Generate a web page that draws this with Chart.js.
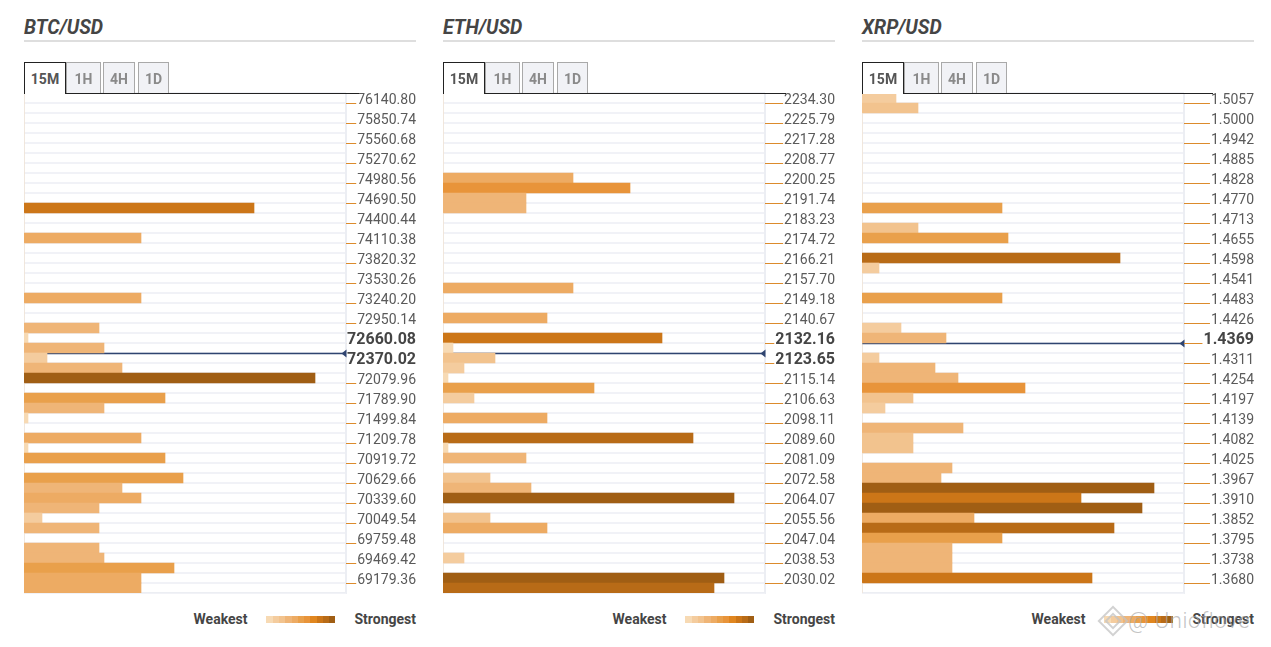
<!DOCTYPE html>
<html>
<head>
<meta charset="utf-8">
<title>Technical confluences - BTC, ETH, XRP</title>
<script src="https://cdn.jsdelivr.net/npm/chart.js@4.4.1/dist/chart.umd.min.js"></script>
<style>
  body { margin: 0; background: #fff; font-family: Roboto, "Noto Sans", sans-serif; }
  #page { position: relative; width: 1271px; height: 647px; overflow: hidden; }
  .panel { position: absolute; top: 0; width: 392px; height: 647px; }
  .title { position: absolute; left: 0; top: 15px; line-height: 26px; font-size: 19.5px; font-weight: 700; font-style: italic; color: #454545; }
  .rule { position: absolute; left: 0; top: 40px; width: 392px; height: 2px; background: #dedede; }
  .tab { position: absolute; top: 62px; height: 31px; box-sizing: border-box; border: 1px solid #a9a9a9; border-bottom: none;
         background: #f1f2f6; color: #8a8a8a; font-size: 14px; font-weight: 700; text-align: center; line-height: 32px; z-index: 3; }
  .tab.on { background: #fff; border-color: #222; color: #555; height: 32px; }
  .tabline { position: absolute; top: 93px; left: 41px; height: 1px; background: #222; z-index: 2; }
  .box { position: absolute; left: 0; top: 85px; width: 392px; height: 510px; z-index: 1; }
  .legend { position: absolute; right: 0; top: 610px; height: 18px; display: flex; align-items: center;
            font-size: 14px; font-weight: 700; color: #454545; }
  .ramp { display: flex; width: 69px; height: 7px; margin: 0 19px 0 19px; }
  .ramp span { flex: 1; }
  .mark { position: absolute; left: 1097px; top: 604px; width: 170px; height: 40px; color: rgba(170,170,170,0.7); z-index: 5; }
  .mark i { position: absolute; border: 2px solid rgba(195,195,195,0.75); transform: rotate(45deg); }
  .mark b { position: absolute; left: 31px; top: 4px; font-size: 22px; font-weight: 300; letter-spacing: 0.6px; }
</style>
</head>
<body>
<div id="page"></div>

<script>
// price levels printed on the right, one per two rows
const btcLevels = ['76140.80', '75850.74', '75560.68', '75270.62', '74980.56', '74690.50', '74400.44', '74110.38', '73820.32',
  '73530.26', '73240.20', '72950.14', '72660.08', '72370.02', '72079.96', '71789.90', '71499.84', '71209.78', '70919.72',
  '70629.66', '70339.60', '70049.54', '69759.48', '69469.42', '69179.36'];
const ethLevels = ['2234.30', '2225.79', '2217.28', '2208.77', '2200.25', '2191.74', '2183.23', '2174.72', '2166.21',
  '2157.70', '2149.18', '2140.67', '2132.16', '2123.65', '2115.14', '2106.63', '2098.11', '2089.60', '2081.09',
  '2072.58', '2064.07', '2055.56', '2047.04', '2038.53', '2030.02'];
const xrpLevels = ['1.5057', '1.5000', '1.4942', '1.4885', '1.4828', '1.4770', '1.4713', '1.4655', '1.4598',
  '1.4541', '1.4483', '1.4426', '1.4369', '1.4311', '1.4254', '1.4197', '1.4139', '1.4082', '1.4025',
  '1.3967', '1.3910', '1.3852', '1.3795', '1.3738', '1.3680'];

// confluence strength per row, top to bottom (50 rows)
const btcStrength = [0, 0, 0, 0, 0, 0, 0, 0, 0, 0, 0, 230, 0, 0, 117, 0, 0, 0, 0, 0,
  117, 0, 0, 75, 4, 80, 23, 98, 291, 0, 141, 80, 4, 0, 117, 4, 141, 0, 159, 98,
  117, 75, 18, 75, 0, 75, 80, 150, 117, 117];
const ethStrength = [0, 0, 0, 0, 0, 0, 0, 0, 130, 187, 83, 83, 0, 0, 0, 0, 0, 0, 0, 130,
  0, 0, 104, 0, 219, 10, 52, 21, 5, 151, 31, 0, 104, 0, 250, 5, 83, 0, 47, 88,
  291, 0, 47, 104, 0, 0, 21, 0, 281, 271];
const xrpStrength = [34, 56, 0, 0, 0, 0, 0, 0, 0, 0, 0, 140, 0, 56, 146, 0, 258, 17, 0, 0,
  140, 0, 0, 39, 84, 0, 17, 73, 96, 163, 51, 23, 0, 101, 51, 51, 0, 90, 79, 292,
  219, 280, 112, 252, 140, 90, 90, 90, 230, 0];

// current price and the levels shown in bold around it
const btcPrice = 72435;
const ethPrice = 2125.56;
const xrpPrice = 1.4353;
const btcBold = ['72660.08', '72370.02'];
const ethBold = ['2132.16', '2123.65'];
const xrpBold = ['1.4369'];

const tabs = ['15M', '1H', '4H', '1D'];

// weakest -> strongest
const palette = ['#f7dab4', '#f4cc9e', '#f2c38e', '#efb577', '#edab63', '#e9a04b', '#e8943a', '#e0861f', '#cc7618', '#b86b17', '#a05e14'];
const limits = [14, 42, 70, 103, 136, 161, 200, 215, 245, 276];

function shade(v) {
  let i = 0;
  while (i < limits.length && v >= limits[i]) i++;
  return palette[i];
}

const tickFont = { family: 'Roboto', size: 14 };
const boldFont = { family: 'Roboto', size: 16, weight: 'bold' };
const measureCtx = document.createElement('canvas').getContext('2d');
function textWidth(s, f) {
  measureCtx.font = (f.weight ? f.weight + ' ' : '') + f.size + 'px ' + f.family;
  return measureCtx.measureText(s).width;
}

// fractional row index of a price, between the printed levels
function priceRow(levels, price) {
  const v = levels.map(Number);
  for (let k = 0; k < v.length - 1; k++) {
    if (price <= v[k] && price >= v[k + 1]) {
      return 2 * k + 2 * (v[k] - price) / (v[k] - v[k + 1]);
    }
  }
  return 0;
}

const levelMarks = {
  id: 'levelMarks',
  beforeDatasetsDraw(chart, args, o) {
    const { ctx, chartArea: a } = chart;
    const y = chart.scales.y;
    ctx.save();
    ctx.strokeStyle = '#eceef3';
    ctx.lineWidth = 1;
    ctx.strokeRect(a.left + 0.5, a.top + 0.5, a.width - 1, a.height - 1);
    const py = y.getPixelForValue(priceRow(o.levels, o.price));
    ctx.strokeStyle = '#2f4470';
    ctx.lineWidth = 1.5;
    ctx.beginPath();
    ctx.moveTo(a.left, py);
    ctx.lineTo(a.right, py);
    ctx.stroke();
    ctx.restore();
  },
  afterDatasetsDraw(chart, args, o) {
    const { ctx, chartArea: a } = chart;
    const py = chart.scales.y.getPixelForValue(priceRow(o.levels, o.price));
    ctx.save();
    ctx.fillStyle = '#2f4470';
    ctx.beginPath();
    ctx.moveTo(a.right - 4.5, py);
    ctx.lineTo(a.right + 0.5, py - 4);
    ctx.lineTo(a.right + 0.5, py + 4);
    ctx.closePath();
    ctx.fill();
    ctx.restore();
  },
  afterDraw(chart, args, o) {
    // orange underline from the plot edge to each printed level
    const { ctx, chartArea: a } = chart;
    const y = chart.scales.y;
    const half = (y.getPixelForTick(1) - y.getPixelForTick(0)) / 2;
    ctx.save();
    ctx.strokeStyle = '#dc8b2c';
    ctx.lineWidth = 1;
    y.ticks.forEach((t, i) => {
      if (!t.label) return;
      const w = textWidth(t.label, o.bold.includes(t.label) ? boldFont : tickFont);
      const ly = Math.round(y.getPixelForTick(i) + half) + 0.5;
      ctx.beginPath();
      ctx.moveTo(a.right, ly);
      ctx.lineTo(y.right - w - 1, ly);
      ctx.stroke();
    });
    ctx.restore();
  }
};

function makePanel(left, title, levels, strength, price, bold, lineWidth) {
  const page = document.getElementById('page');
  const panel = document.createElement('div');
  panel.className = 'panel';
  panel.style.left = left + 'px';
  panel.innerHTML =
    '<div class="title">' + title + '</div><div class="rule"></div>' +
    '<div class="tab on" style="left:0;width:42px">' + tabs[0] + '</div>' +
    '<div class="tab" style="left:42px;width:35px">' + tabs[1] + '</div>' +
    '<div class="tab" style="left:79px;width:32px">' + tabs[2] + '</div>' +
    '<div class="tab" style="left:114px;width:31px">' + tabs[3] + '</div>' +
    '<div class="tabline" style="width:' + lineWidth + 'px"></div>' +
    '<div class="box"><canvas></canvas></div>' +
    '<div class="legend"><span>Weakest</span><div class="ramp">' +
    palette.map(c => '<span style="background:' + c + '"></span>').join('') +
    '</div><span>Strongest</span></div>';
  page.appendChild(panel);

  const rows = levels.flatMap(l => [l, '']);
  const isBold = c => c.tick && bold.includes(c.tick.label);

  new Chart(panel.querySelector('canvas'), {
    type: 'bar',
    data: {
      labels: rows,
      datasets: [{
        data: strength,
        backgroundColor: strength.map(shade),
        borderWidth: 0,
        barPercentage: 1,
        categoryPercentage: 1
      }]
    },
    options: {
      indexAxis: 'y',
      responsive: true,
      maintainAspectRatio: false,
      animation: false,
      layout: { padding: { top: 8, bottom: 2, left: 0, right: 0 } },
      plugins: {
        legend: { display: false },
        tooltip: { enabled: false },
        levelMarks: { levels: levels, price: price, bold: bold }
      },
      scales: {
        x: { display: false, min: 0, max: 322 },
        y: {
          position: 'right',
          offset: true,
          grid: { offset: true, color: '#f1f2f7', lineWidth: 2, drawTicks: false },
          border: { display: true, color: '#eceef3' },
          ticks: {
            autoSkip: false,
            crossAlign: 'far',
            padding: 0,
            labelOffset: 2,
            font: c => isBold(c) ? boldFont : tickFont,
            color: c => isBold(c) ? '#454545' : '#5a5a5a'
          },
          afterFit: s => { s.width = 70; s.paddingTop = 0; s.paddingBottom = 0; }
        }
      }
    },
    plugins: [levelMarks]
  });
}

makePanel(24, 'BTC/USD', btcLevels, btcStrength, btcPrice, btcBold, 294);
makePanel(443, 'ETH/USD', ethLevels, ethStrength, ethPrice, ethBold, 302);
makePanel(862, 'XRP/USD', xrpLevels, xrpStrength, xrpPrice, xrpBold, 310);

const mark = document.createElement('div');
mark.className = 'mark';
mark.innerHTML = '<i style="left:5px;top:6px;width:18px;height:18px"></i><i style="left:10px;top:11px;width:8px;height:8px"></i><b>@ Unioflove</b>';
document.getElementById('page').appendChild(mark);
</script>
</body>
</html>
